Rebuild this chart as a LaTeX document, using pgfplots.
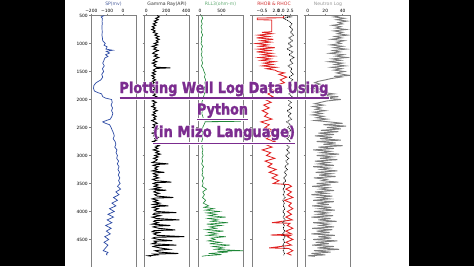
\documentclass[border=0pt]{standalone}
\usepackage{fontspec}
\setmainfont{DejaVu Sans}
\newfontfamily\ttlfont{DejaVu Sans}[FakeBold=2]
\newfontfamily\halofont{DejaVu Sans}[FakeBold=9]
\usepackage{pgfplots}
\pgfplotsset{compat=1.18}
\definecolor{frame}{gray}{0.5}
\definecolor{spblue}{RGB}{45,75,165}
\definecolor{rllgreen}{RGB}{30,135,55}
\definecolor{rhored}{RGB}{225,35,35}
\definecolor{ttlpurple}{RGB}{123,44,143}
\definecolor{ngray}{RGB}{125,125,125}
\pgfplotsset{track/.style={scale only axis, width=45pt, height=252pt, anchor=north west,
  y dir=reverse, ymin=500, ymax=5000, axis line style={frame, line width=0.5pt},
  ytick={500,1000,...,4500}, yticklabels={}, xtick pos=right, xticklabel pos=right, ytick pos=left,
  tick align=outside, major tick length=2pt, tick style={frame, line width=0.4pt},
  ticklabel style={font=\fontsize{4.4}{5}\selectfont, inner sep=1pt}, clip=true}}
% #1 x centre, #2 baseline, #3 width, #4 underline y, #5 text
\newcommand\ttl[5]{%
  \node[anchor=base, inner sep=0pt, text=white] at (#1pt,#2pt) {\resizebox{#3pt}{11.5pt}{\halofont\bfseries #5}};
  \draw[white, line width=3pt] (#1pt-#3pt/2-1pt,#4pt) -- (#1pt+#3pt/2+1pt,#4pt);
  \draw[ttlpurple, line width=1.2pt] (#1pt-#3pt/2,#4pt) -- (#1pt+#3pt/2,#4pt);
  \node[anchor=base, inner sep=0pt, text=ttlpurple] at (#1pt,#2pt) {\resizebox{#3pt}{11.5pt}{\ttlfont\bfseries #5}};}
\begin{document}
\begin{tikzpicture}
\useasboundingbox (0pt,0pt) rectangle (474pt,266pt);
\clip (0pt,0pt) rectangle (474pt,266pt);
\fill[black] (0pt,0pt) rectangle (474pt,266pt);
\fill[white] (65pt,0pt) rectangle (409pt,266pt);
% Track 1: SP
\begin{axis}[track, at={(91pt,250.5pt)}, xmin=-202, xmax=82, xtick={-200,-100,0}, xticklabels={−200,−100,0},
  yticklabels={500,1000,1500,2000,2500,3000,3500,4000,4500}]
\addplot[spblue, line width=0.7pt] coordinates {(-118,500) (-138,525) (-130,550) (-132,600) (-131,650) (-133,700) (-132,750) (-131,800) (-133,850) (-130,900) (-128,950) (-112,1000) (-120,1030) (-100,1060) (-108,1100) (-65,1120) (-105,1140) (-85,1170) (-110,1200) (-95,1230) (-115,1260) (-120,1300) (-128,1350) (-118,1400) (-130,1450) (-122,1500) (-134,1550) (-128,1600) (-140,1650) (-170,1700) (-184,1750) (-186,1800) (-180,1850) (-160,1875) (-135,1900) (-128,1950) (-110,1975) (-72,2000) (-68,2050) (-75,2100) (-66,2150) (-72,2200) (-64,2250) (-70,2300) (-80,2350) (-110,2380) (-128,2400) (-115,2420) (-85,2450) (-75,2500) (-68,2550) (-60,2600) (-55,2650) (-62,2700) (-50,2750) (-45,2800) (-52,2850) (-38,2900) (-44,2950) (-35,3000) (-40,3050) (-28,3100) (-36,3150) (-25,3200) (-32,3250) (-22,3300) (-30,3350) (-20,3400) (-28,3450) (-18,3500) (-35,3550) (-15,3600) (-45,3650) (-25,3700) (-60,3750) (-35,3800) (-70,3850) (-45,3900) (-85,3950) (-55,4000) (-95,4050) (-60,4100) (-100,4150) (-70,4200) (-110,4250) (-75,4300) (-105,4350) (-80,4400) (-115,4450) (-90,4500) (-120,4550) (-95,4600) (-110,4650) (-125,4700) (-95,4730) (-105,4760) (-100,4780)};
\end{axis}
% Track 2: GR
\begin{axis}[track, at={(144.5pt,250.5pt)}, xmin=-17, xmax=432, xtick={0,200,400}, xticklabels={0,200,400}]
\addplot[black, line width=0.9pt] coordinates {(110,500) (130,525) (95,550) (120,575) (80,600) (105,625) (70,650) (95,675) (60,700) (85,725) (55,750) (90,775) (70,800) (110,825) (85,850) (125,875) (95,900) (130,925) (100,950) (120,975) (80,1000) (115,1025) (60,1050) (100,1075) (75,1100) (120,1125) (85,1150) (65,1175) (110,1200) (80,1225) (125,1250) (90,1275) (70,1300) (105,1325) (60,1350) (95,1375) (75,1400) (110,1425) (240,1435) (100,1445) (70,1475) (95,1500) (60,1525) (90,1550) (55,1575) (85,1600) (65,1625) (95,1650) (60,1675) (80,1700) (55,1725) (90,1750) (65,1775) (100,1800) (70,1825) (85,1850) (60,1875) (95,1900) (70,1925) (105,1950) (75,1975) (90,2000) (60,2025) (100,2050) (70,2075) (85,2100) (55,2125) (95,2150) (75,2175) (110,2200) (70,2225) (90,2250) (60,2275) (100,2300) (75,2325) (95,2350) (55,2375) (85,2400) (110,2425) (70,2450) (95,2475) (65,2500) (115,2525) (80,2550) (100,2575) (60,2600) (95,2625) (75,2650) (120,2675) (85,2700) (105,2725) (65,2750) (110,2775) (80,2800) (130,2825) (90,2850) (115,2875) (70,2900) (125,2925) (95,2950) (140,2975) (85,3000) (120,3025) (75,3050) (110,3075) (90,3100) (60,3125) (220,3150) (100,3160) (70,3175) (120,3200) (85,3225) (110,3250) (60,3275) (180,3300) (90,3310) (70,3325) (115,3350) (80,3375) (125,3400) (65,3425) (100,3450) (250,3475) (90,3485) (70,3500) (120,3525) (80,3550) (140,3575) (60,3600) (200,3620) (95,3630) (75,3650) (130,3675) (85,3700) (110,3725) (270,3750) (90,3760) (60,3775) (115,3800) (75,3825) (135,3850) (70,3875) (220,3900) (100,3910) (65,3925) (120,3950) (80,3975) (110,4000) (300,4020) (85,4030) (70,4050) (140,4075) (60,4100) (105,4125) (330,4150) (90,4160) (75,4175) (120,4200) (60,4225) (240,4250) (100,4260) (70,4275) (125,4300) (290,4330) (80,4340) (60,4360) (130,4375) (75,4400) (110,4425) (380,4450) (90,4460) (65,4475) (125,4500) (260,4520) (80,4530) (100,4550) (60,4575) (300,4600) (95,4610) (70,4625) (135,4650) (230,4675) (160,4685) (90,4700) (130,4725) (320,4750) (80,4760) (110,4775) (20,4790) (50,4800)};
\end{axis}
% Track 3: RLL3
\begin{axis}[track, at={(198pt,250.5pt)}, xmin=-50, xmax=1000, xtick={0,500}, xticklabels={0,500}]
\addplot[rllgreen, line width=0.6pt] coordinates {(30,500) (60,550) (25,600) (50,650) (20,700) (45,750) (30,800) (60,850) (25,900) (40,950) (20,1000) (55,1050) (30,1100) (45,1150) (25,1200) (50,1250) (35,1300) (60,1350) (30,1400) (70,1450) (90,1500) (120,1550) (100,1600) (130,1650) (110,1700) (125,1750) (95,1800) (120,1850) (100,1900) (80,1950) (60,2000) (40,2050) (55,2100) (35,2150) (50,2200) (40,2250) (60,2300) (80,2350) (100,2380) (950,2390) (120,2400) (90,2450) (60,2500) (45,2550) (70,2600) (40,2650) (60,2700) (35,2750) (55,2800) (40,2850) (65,2900) (45,2950) (70,3000) (40,3050) (60,3100) (35,3150) (80,3200) (45,3250) (65,3300) (40,3350) (90,3400) (50,3450) (70,3500) (45,3550) (150,3600) (60,3650) (100,3700) (55,3750) (130,3800) (70,3850) (200,3900) (90,3925) (320,3950) (120,3975) (450,4000) (150,4025) (380,4050) (200,4075) (600,4100) (180,4125) (420,4150) (250,4175) (650,4200) (150,4225) (500,4250) (220,4275) (380,4300) (130,4325) (550,4350) (200,4375) (400,4400) (160,4425) (600,4450) (250,4475) (350,4500) (180,4525) (480,4550) (220,4575) (700,4600) (300,4625) (550,4650) (350,4675) (1000,4700) (400,4710) (650,4725) (200,4750) (500,4770) (120,4790) (40,4800)};
\end{axis}
% Track 4: RHOB
\begin{axis}[track, at={(252pt,250.5pt)}, xmin=1.13, xmax=2.75, xtick={2.0,2.5}, xticklabels={2.0,2.5}]
\addplot[rhored, line width=0.85pt] coordinates {(2.27,500) (2.27,540) (1.32,545) (1.32,575) (1.84,580) (1.84,790) (1.49,800) (1.85,825) (1.35,850) (1.75,875) (1.30,900) (1.90,925) (1.45,950) (1.80,975) (1.28,1000) (1.70,1025) (1.40,1050) (1.95,1075) (1.35,1100) (1.78,1125) (1.30,1150) (1.85,1175) (1.50,1200) (1.92,1225) (1.38,1250) (1.80,1275) (1.45,1300) (1.95,1325) (1.55,1350) (1.88,1375) (1.50,1400) (2.00,1425) (1.65,1450) (1.95,1475) (2.05,1500) (2.30,1525) (2.10,1550) (2.38,1600) (2.15,1650) (2.30,1700) (1.95,1750) (1.75,1800) (1.95,1850) (1.70,1900) (1.88,1950) (1.60,2000) (1.82,2050) (1.55,2100) (1.75,2150) (1.50,2200) (1.70,2250) (1.58,2300) (1.85,2350) (1.45,2400) (1.75,2450) (1.60,2500) (1.90,2550) (1.55,2600) (1.80,2650) (1.65,2700) (1.95,2750) (1.60,2800) (1.85,2850) (1.50,2900) (1.80,2950) (1.65,3000) (1.95,3050) (1.60,3100) (1.85,3150) (1.70,3200) (2.00,3250) (1.75,3300) (2.05,3350) (1.85,3400) (2.10,3450) (1.90,3500) (2.45,3520) (2.55,3550) (2.35,3600) (2.55,3650) (2.40,3700) (2.60,3750) (2.30,3800) (2.55,3850) (2.45,3900) (2.60,3950) (2.40,4000) (2.55,4050) (2.35,4100) (2.58,4150) (1.85,4200) (2.50,4210) (2.40,4250) (2.60,4300) (2.35,4350) (2.55,4400) (1.80,4420) (2.50,4430) (2.40,4450) (2.60,4500) (2.35,4550) (2.55,4600) (1.75,4650) (2.45,4660) (2.60,4700) (2.40,4750) (2.55,4780)};
\end{axis}
% Track 4: RHOC (twin)
\begin{axis}[track, at={(252pt,250.5pt)}, xmin=-0.76, xmax=0.41, xtick={-0.5,0.0}, xticklabels={−0.5,0.0}, ytick=\empty]
\addplot[black, line width=0.7pt, dash pattern=on 1pt off 0.8pt] coordinates {(0.10,500) (0.25,525) (0.05,550) (0.20,600) (0.28,650) (0.22,700) (0.30,750) (0.24,800) (0.32,850) (0.20,900) (0.30,950) (0.18,1000) (0.28,1050) (0.15,1100) (0.30,1150) (0.20,1200) (0.33,1250) (0.22,1300) (0.30,1350) (0.18,1400) (0.28,1450) (0.24,1500) (0.32,1550) (0.20,1600) (0.30,1650) (0.22,1700) (0.28,1750) (0.18,1800) (0.27,1850) (0.20,1900) (0.29,1950) (0.17,2000) (0.26,2050) (0.19,2100) (0.28,2150) (0.15,2200) (0.25,2250) (0.18,2300) (0.27,2350) (0.14,2400) (0.24,2450) (0.17,2500) (0.26,2550) (0.13,2600) (0.22,2650) (0.15,2700) (0.24,2750) (0.12,2800) (0.21,2850) (0.14,2900) (0.22,2950) (0.11,3000) (0.20,3050) (0.12,3100) (0.18,3150) (0.09,3200) (0.16,3250) (0.08,3300) (0.14,3350) (0.06,3400) (0.12,3450) (0.05,3500) (0.10,3550) (0.04,3600) (0.09,3650) (0.05,3700) (0.10,3750) (0.04,3800) (0.08,3850) (0.05,3900) (0.10,3950) (0.04,4000) (0.09,4050) (0.05,4100) (0.10,4150) (0.04,4200) (0.08,4250) (0.05,4300) (0.09,4350) (0.04,4400) (0.10,4450) (0.05,4500) (0.09,4550) (0.04,4600) (0.08,4650) (0.05,4700) (0.09,4750) (0.06,4780)};
\end{axis}
% Track 5: Neutron
\begin{axis}[track, at={(305.5pt,250.5pt)}, xmin=-2.7, xmax=49, xtick={0,20,40}, xticklabels={0,20,40}]
\addplot[ngray, line width=0.9pt] coordinates {(38,500) (30,525) (42,550) (33,575) (45,600) (35,625) (40,650) (28,675) (38,700) (32,725) (44,750) (30,775) (40,800) (34,825) (46,850) (31,875) (39,900) (27,925) (42,950) (33,975) (38,1000) (26,1025) (40,1050) (30,1075) (44,1100) (29,1125) (37,1150) (25,1175) (41,1200) (32,1225) (45,1250) (28,1275) (38,1300) (24,1325) (40,1350) (31,1375) (43,1400) (27,1425) (39,1450) (30,1475) (42,1500) (33,1525) (40,1550) (48,1570) (30,1585) (38,1600) (27,1625) (20,1650) (12,1675) (8,1700) (14,1725) (6,1750) (12,1775) (5,1800) (13,1825) (8,1850) (18,1875) (30,1900) (15,1925) (35,1950) (20,1975) (38,2000) (22,2025) (15,2050) (8,2075) (18,2100) (6,2125) (15,2150) (9,2175) (20,2200) (7,2225) (16,2250) (5,2275) (18,2300) (10,2325) (22,2350) (8,2375) (25,2400) (40,2425) (18,2450) (44,2475) (22,2500) (38,2525) (15,2550) (35,2575) (12,2600) (30,2625) (8,2650) (28,2675) (14,2700) (38,2725) (10,2750) (32,2775) (18,2800) (40,2825) (12,2850) (30,2875) (6,2900) (26,2925) (15,2950) (36,2975) (10,3000) (28,3025) (14,3050) (34,3075) (8,3100) (24,3125) (12,3150) (30,3175) (6,3200) (25,3225) (15,3250) (34,3275) (9,3300) (27,3325) (13,3350) (32,3375) (7,3400) (22,3425) (16,3450) (35,3475) (10,3500) (26,3525) (5,3550) (24,3575) (14,3600) (30,3625) (8,3650) (22,3675) (4,3700) (28,3725) (12,3750) (25,3775) (6,3800) (30,3825) (10,3850) (24,3875) (5,3900) (27,3925) (13,3950) (31,3975) (7,4000) (23,4025) (11,4050) (29,4075) (4,4100) (26,4125) (12,4150) (33,4175) (6,4200) (24,4225) (14,4250) (30,4275) (5,4300) (28,4325) (10,4350) (25,4375) (4,4400) (31,4425) (12,4450) (27,4475) (6,4500) (34,4525) (9,4550) (24,4575) (5,4600) (30,4625) (11,4650) (36,4675) (7,4700) (26,4725) (4,4750) (20,4775) (0,4790) (8,4800)};
\end{axis}
% track titles
\begin{scope}[every node/.style={anchor=base, inner sep=0pt, font=\fontsize{4.6}{5}\selectfont}]
\node[text=spblue!70!gray] at (113.5pt,260.5pt) {SP(mv)};
\node[text=black!80] at (167pt,260.5pt) {Gamma Ray(API)};
\node[text=rllgreen!70!white] at (220.5pt,260.5pt) {RLL3(ohm-m)};
\node[text=rhored!85!gray] at (274pt,260.5pt) {RHOB \& RHOC};
\node[text=ngray!80!white] at (328pt,260.5pt) {Neutron Log};
\end{scope}
% overlay title
\ttl{224}{173}{209}{168}{Plotting Well Log Data Using}
\ttl{222.5}{151.5}{51}{146.8}{Python}
\ttl{224}{129}{142}{122.8}{(in Mizo Language)}
\end{tikzpicture}
\end{document}
